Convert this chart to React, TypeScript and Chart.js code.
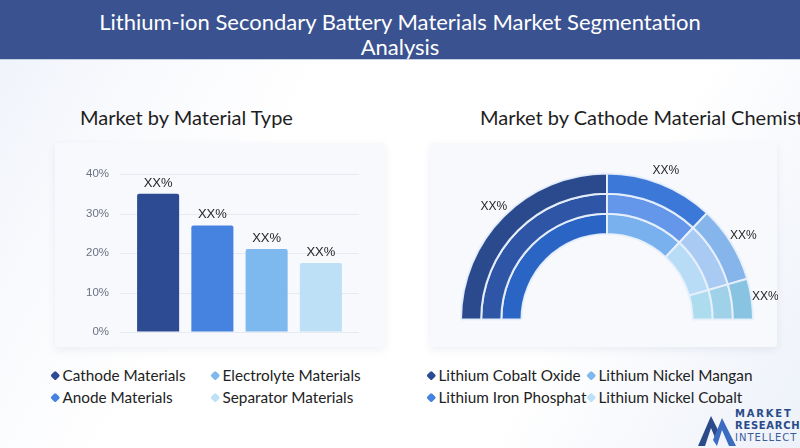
import React, { useEffect, useRef } from "react";
import { Chart, registerables } from "chart.js";

Chart.register(...registerables);

const materialTypes = ["Cathode Materials", "Anode Materials", "Electrolyte Materials", "Separator Materials"];
const materialShares = [35, 27, 21, 17.5];
const materialColors = ["#2d4b93", "#4682e0", "#7db8ef", "#bde0f7"];
const yTickValues = [0, 10, 20, 30, 40];

const cathodeChemistries = ["Lithium Cobalt Oxide", "Lithium Iron Phosphat", "Lithium Nickel Mangan", "Lithium Nickel Cobalt"];
const cathodeShares = [50, 24, 17, 9];
const cathodeColors = ["#2d4b93", "#4682e0", "#7db8ef", "#bde0f7"];
const ringOuterColors = ["#2b4a8e", "#3b78d8", "#85b5eb", "#88c4e2"];
const ringMiddleColors = ["#2f56a6", "#6497ea", "#a9cbf3", "#9fd1e9"];
const ringInnerColors = ["#2a65c6", "#78b1ee", "#b9dcf6", "#acdcee"];

const valueLabel = "XX%";

const FONT = "Lato, 'Open Sans', sans-serif";

function BarChart() {
  const ref = useRef<HTMLCanvasElement | null>(null);
  useEffect(() => {
    if (!ref.current) return;
    const gridPlugin = {
      id: "wideGrid",
      beforeDatasetsDraw(chart: any) {
        const { ctx, chartArea } = chart;
        const y = chart.scales.y;
        ctx.save();
        ctx.strokeStyle = "#e7eaf1";
        ctx.lineWidth = 1;
        yTickValues.forEach((v) => {
          const py = Math.round(y.getPixelForValue(v)) + 0.5;
          ctx.beginPath();
          ctx.moveTo(chartArea.left - 11, py);
          ctx.lineTo(chartArea.right + 11, py);
          ctx.stroke();
        });
        ctx.restore();
      },
    };
    const labelPlugin = {
      id: "barLabels",
      afterDatasetsDraw(chart: any) {
        const { ctx } = chart;
        const meta = chart.getDatasetMeta(0);
        ctx.save();
        ctx.fillStyle = "#1f1f1f";
        ctx.font = "13px 'Liberation Sans', Arial, sans-serif";
        ctx.textAlign = "center";
        ctx.textBaseline = "bottom";
        meta.data.forEach((bar: any) => {
          ctx.fillText(valueLabel, bar.x, bar.y - 4);
        });
        ctx.restore();
      },
    };
    const chart = new Chart(ref.current, {
      type: "bar",
      data: {
        labels: materialTypes,
        datasets: [
          {
            data: materialShares,
            backgroundColor: materialColors,
            borderRadius: 2,
            borderSkipped: "bottom",
            categoryPercentage: 1,
            barPercentage: 0.775,
          },
        ],
      },
      options: {
        animation: false,
        responsive: false,
        maintainAspectRatio: false,
        layout: { padding: { left: 0, right: 15, top: 24, bottom: 10 } },
        plugins: { legend: { display: false }, tooltip: { enabled: false } },
        scales: {
          x: { display: false },
          y: {
            min: 0,
            max: 40,
            afterFit: (s: any) => {
              s.width = 71;
            },
            afterBuildTicks: (s: any) => {
              s.ticks = yTickValues.map((v) => ({ value: v }));
            },
            grid: {
              display: true,
              drawOnChartArea: false,
              drawTicks: true,
              tickLength: 18,
              color: "rgba(0,0,0,0)",
            },
            border: { display: false },
            ticks: {
              padding: 4,
              color: "#6b7284",
              font: { family: "'Liberation Sans', Arial, sans-serif", size: 11.5 },
              callback: (v: any) => v + "%",
            },
          },
        },
      },
      plugins: [gridPlugin, labelPlugin],
    } as any);
    return () => chart.destroy();
  }, []);
  return (
    <canvas
      ref={ref}
      width={303}
      height={193}
      style={{ position: "absolute", left: 60, top: 150, width: 303, height: 193 }}
    />
  );
}

function RingChart() {
  const ref = useRef<HTMLCanvasElement | null>(null);
  useEffect(() => {
    if (!ref.current) return;
    const labelPlugin = {
      id: "ringLabels",
      afterDatasetsDraw(chart: any) {
        const { ctx } = chart;
        const meta = chart.getDatasetMeta(0);
        ctx.save();
        ctx.fillStyle = "#1f1f1f";
        ctx.font = "12px 'Liberation Sans', Arial, sans-serif";
        ctx.textAlign = "center";
        ctx.textBaseline = "middle";
        meta.data.forEach((arc: any) => {
          const p = arc.getProps(["x", "y", "startAngle", "endAngle", "outerRadius"], true);
          const mid = (p.startAngle + p.endAngle) / 2;
          const r = p.outerRadius + 14;
          ctx.fillText(valueLabel, p.x + Math.cos(mid) * r, p.y + Math.sin(mid) * r);
        });
        ctx.restore();
      },
    };
    const chart = new Chart(ref.current, {
      type: "doughnut",
      data: {
        labels: cathodeChemistries,
        datasets: [ringOuterColors, ringMiddleColors, ringInnerColors].map((colors) => ({
          data: cathodeShares,
          backgroundColor: colors,
          borderColor: "rgba(232,240,252,0.95)",
          borderWidth: 2,
        })),
      },
      options: {
        animation: false,
        responsive: false,
        maintainAspectRatio: false,
        rotation: -90,
        circumference: 180,
        cutout: "58.6%",
        layout: { padding: { left: 32, right: 24, top: 32, bottom: 24 } },
        plugins: { legend: { display: false }, tooltip: { enabled: false } },
      },
      plugins: [labelPlugin],
    } as any);
    return () => chart.destroy();
  }, []);
  return (
    <canvas
      ref={ref}
      width={350}
      height={205}
      style={{ position: "absolute", left: 428, top: 140, width: 350, height: 205 }}
    />
  );
}

function Legend({ items, colors, left, colLeft2 }: { items: string[]; colors: string[]; left: number; colLeft2: number }) {
  const rows = [375, 397];
  return (
    <>
      {items.map((name, i) => {
        const col = Math.floor(i / 2);
        const row = i % 2;
        const x = col === 0 ? left : colLeft2;
        return (
          <div
            key={name}
            style={{
              position: "absolute",
              left: x,
              top: rows[row] - 10,
              height: 20,
              display: "flex",
              alignItems: "center",
              whiteSpace: "nowrap",
              fontFamily: FONT,
              fontSize: 15.3,
              color: "#222",
            }}
          >
            <span
              style={{
                display: "inline-block",
                width: 6.5,
                height: 6.5,
                background: colors[i],
                transform: "rotate(45deg)",
                borderRadius: 1.5,
                marginRight: 4,
                marginLeft: 1,
              }}
            />
            {name}
          </div>
        );
      })}
    </>
  );
}

function Logo() {
  return (
    <div style={{ position: "absolute", left: 698, top: 405, width: 100, height: 42 }}>
      <svg width="38" height="34" viewBox="0 0 38 34" style={{ position: "absolute", left: 0, top: 7 }}>
        <polygon points="0,34 13,4 22,22 18,28 13,16 7,34" fill="#2a4a8a" />
        <polygon points="15,28 24,6 38,34 31,34 24,18 19,34" fill="#3b6cc0" />
      </svg>
      <div
        style={{
          position: "absolute",
          left: 37,
          top: 3,
          fontFamily: "'DejaVu Sans', sans-serif",
          fontWeight: 700,
          fontSize: 10,
          lineHeight: "12px",
          letterSpacing: 1.8,
          color: "#2a4a8a",
        }}
      >
        <div>MARKET</div>
        <div style={{ letterSpacing: 0.7 }}>RESEARCH</div>
        <div style={{ fontWeight: 400, letterSpacing: 1, color: "#3a5c9a" }}>INTELLECT</div>
      </div>
    </div>
  );
}

export default function App() {
  return (
    <div
      style={{
        position: "absolute",
        left: 0,
        top: 0,
        width: 800,
        height: 448,
        overflow: "hidden",
        background:
          "linear-gradient(120deg, #eef2fa 0%, #f9fafd 18%, #ffffff 35%, #ffffff 70%, #f6f8fc 85%, #edf1f9 100%)",
        fontFamily: FONT,
      }}
    >
      <div
        style={{
          position: "absolute",
          left: 0,
          top: 0,
          width: 800,
          height: 60,
          background: "#3a5390",
          borderBottom: "1px solid #c4d0e8",
          color: "#ffffff",
          textAlign: "center",
          fontSize: 22,
          lineHeight: "25px",
          paddingTop: 9,
          boxSizing: "border-box",
        }}
      >
        <div>Lithium-ion Secondary Battery Materials Market Segmentation</div>
        <div>Analysis</div>
      </div>

      <div style={{ position: "absolute", left: 80, top: 105, fontSize: 20, color: "#1e1e1e", whiteSpace: "nowrap" }}>
        Market by Material Type
      </div>
      <div style={{ position: "absolute", left: 480, top: 105, fontSize: 20, color: "#1e1e1e", whiteSpace: "nowrap" }}>
        Market by Cathode Material Chemistry
      </div>

      <div
        style={{
          position: "absolute",
          left: 55,
          top: 143,
          width: 330,
          height: 204,
          background: "#f8f9fc",
          borderRadius: 3,
          boxShadow: "0 3px 8px rgba(40,60,110,0.08)",
        }}
      />
      <div
        style={{
          position: "absolute",
          left: 430,
          top: 143,
          width: 347,
          height: 204,
          background: "#f8f9fc",
          borderRadius: 3,
          boxShadow: "0 3px 8px rgba(40,60,110,0.08)",
        }}
      />

      <BarChart />
      <RingChart />

      <Legend items={materialTypes} colors={materialColors} left={51} colLeft2={211} />
      <Legend items={cathodeChemistries} colors={cathodeColors} left={427} colLeft2={587} />

      <Logo />
    </div>
  );
}
